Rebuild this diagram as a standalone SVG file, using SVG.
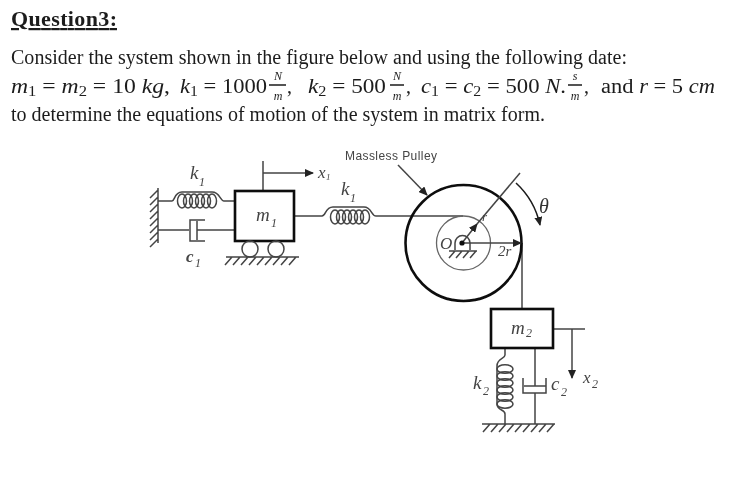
<svg xmlns="http://www.w3.org/2000/svg" width="756" height="480" viewBox="0 0 756 480">
<style>
.t{font-family:"Liberation Serif","Times New Roman",serif;fill:#1c1c1c;font-size:20px}
.i{font-style:italic}
.s{font-size:14px}
.f{font-size:12px;font-style:italic;text-anchor:middle}
.l{font-family:"Liberation Serif",serif;font-style:italic;fill:#444;font-size:19px}
.ls{font-family:"Liberation Serif",serif;font-style:italic;fill:#444;font-size:12px}
.h{fill:none;stroke:#111;stroke-width:2.6}
.w{fill:none;stroke:#444;stroke-width:1.5}
.g{fill:none;stroke:#666;stroke-width:1.3}
.d{fill:none;stroke:#1a1a1a;stroke-width:1.5}
.ah{fill:#222}
</style>
<defs>
<filter id="soft" x="-2%" y="-2%" width="104%" height="104%"><feGaussianBlur stdDeviation="0.4"/></filter>
<marker id="arr" markerWidth="9" markerHeight="8" refX="8" refY="4" orient="auto" markerUnits="userSpaceOnUse"><path class="ah" d="M0 0L9 4L0 8Z"/></marker>
</defs>
<rect width="756" height="480" fill="#fff"/>
<g filter="url(#soft)">
<g id="question-text">
<text class="t" x="11" y="26" font-weight="bold" style="font-size:22px" textLength="106" text-decoration="underline">Question3:</text>
<text class="t" x="11" y="64" textLength="616">Consider the system shown in the figure below and using the following date:</text>
<text class="t" x="11" y="93" textLength="159" lengthAdjust="spacingAndGlyphs"><tspan class="i">m</tspan><tspan class="s" dy="3">1</tspan><tspan dy="-3"> = </tspan><tspan class="i">m</tspan><tspan class="s" dy="3">2</tspan><tspan dy="-3"> = 10 </tspan><tspan class="i">kg</tspan>,</text>
<text class="t" x="180" y="93" textLength="87" lengthAdjust="spacingAndGlyphs"><tspan class="i">k</tspan><tspan class="s" dy="3">1</tspan><tspan dy="-3"> = 1000</tspan></text>
<text class="t f" x="278" y="80">N</text><path class="d" d="M269 85H286"/><text class="t f" x="278" y="100">m</text>
<text class="t" x="287" y="93">,</text>
<text class="t" x="308" y="93" textLength="78" lengthAdjust="spacingAndGlyphs"><tspan class="i">k</tspan><tspan class="s" dy="3">2</tspan><tspan dy="-3"> = 500</tspan></text>
<text class="t f" x="397" y="80">N</text><path class="d" d="M390 85H404"/><text class="t f" x="397" y="100">m</text>
<text class="t" x="406" y="93">,</text>
<text class="t" x="421" y="93" textLength="145" lengthAdjust="spacingAndGlyphs"><tspan class="i">c</tspan><tspan class="s" dy="3">1</tspan><tspan dy="-3"> = </tspan><tspan class="i">c</tspan><tspan class="s" dy="3">2</tspan><tspan dy="-3"> = 500 </tspan><tspan class="i">N</tspan>.</text>
<text class="t f" x="575" y="80">s</text><path class="d" d="M568 85H582"/><text class="t f" x="575" y="100">m</text>
<text class="t" x="584" y="93">,</text>
<text class="t" x="601" y="93" textLength="114" lengthAdjust="spacingAndGlyphs">and <tspan class="i">r</tspan> = 5 <tspan class="i">cm</tspan></text>
<text class="t" x="11" y="121" textLength="534">to determine the equations of motion of the system in matrix form.</text>
</g>
<g id="wall">
<path class="w" d="M158 188V243M158 190l-8 8M158 197l-8 8M158 204l-8 8M158 211l-8 8M158 218l-8 8M158 225l-8 8M158 232l-8 8M158 239l-8 8"/>
</g>
<g id="connectors">
<path class="w" id="spring-k1-left" d="M158 201H172C175 201 174 192 182 192H212C220 192 220 201 224 201H235"/>
<g class="w"><ellipse cx="182" cy="201" rx="4.5" ry="7"/><ellipse cx="188" cy="201" rx="4.5" ry="7"/><ellipse cx="194" cy="201" rx="4.5" ry="7"/><ellipse cx="200" cy="201" rx="4.5" ry="7"/><ellipse cx="206" cy="201" rx="4.5" ry="7"/><ellipse cx="212" cy="201" rx="4.5" ry="7"/></g>
<path class="w" id="damper-c1" d="M158 230H189M205 220H190V241H205M197 221V240M197 230H235"/>
<path class="w" id="spring-k1-right" d="M294 216H322C326 216 325 207 333 207H364C372 207 371 216 376 216H463"/>
<g class="w"><ellipse cx="335" cy="217" rx="4.5" ry="7"/><ellipse cx="341" cy="217" rx="4.5" ry="7"/><ellipse cx="347" cy="217" rx="4.5" ry="7"/><ellipse cx="353" cy="217" rx="4.5" ry="7"/><ellipse cx="359" cy="217" rx="4.5" ry="7"/><ellipse cx="365" cy="217" rx="4.5" ry="7"/></g>
<path class="w" id="rope" d="M522 243V309"/>
<path class="w" id="spring-k2" d="M505 348V355C505 359 497 358 497 366V404C497 411 505 409 505 414V424"/>
<g class="w"><ellipse cx="505" cy="369" rx="8" ry="4.2"/><ellipse cx="505" cy="376" rx="8" ry="4.2"/><ellipse cx="505" cy="383" rx="8" ry="4.2"/><ellipse cx="505" cy="390" rx="8" ry="4.2"/><ellipse cx="505" cy="397" rx="8" ry="4.2"/><ellipse cx="505" cy="404" rx="8" ry="4.2"/></g>
<path class="w" id="damper-c2" d="M535 348V386M524 386H546M523 378V393H546V378M535 393V424"/>
<path class="w" id="x1-arrow" d="M263 161V191M263 173H313" marker-end="url(#arr)"/>
<path class="w" id="x2-ref" d="M553 329H585"/>
<path class="w" id="x2-arrow" d="M572 329V378" marker-end="url(#arr)"/>
<path class="w" id="leader" d="M398 165L427 195" marker-end="url(#arr)"/>
<path class="d" id="theta-arc" d="M516 183A80 80 0 0 1 540 225" marker-end="url(#arr)"/>
</g>
<g id="m1">
<rect class="h" x="235" y="191" width="59" height="50"/>
<text class="l" x="256" y="221">m</text><text class="ls" x="271" y="227">1</text>
<circle class="w" cx="250" cy="249" r="8"/><circle class="w" cx="276" cy="249" r="8"/>
<path class="w" d="M226 257H299M232 257l-7 8M240 257l-7 8M248 257l-7 8M256 257l-7 8M264 257l-7 8M272 257l-7 8M280 257l-7 8M288 257l-7 8M296 257l-7 8"/>
</g>
<g id="pulley">
<circle class="h" cx="463.5" cy="243" r="58"/>
<circle class="g" cx="463.5" cy="243" r="27"/>
<path class="w" d="M462 243L477 224" marker-end="url(#arr)"/>
<path class="w" d="M477 224L520 173"/>
<path class="w" d="M462 243H521" marker-end="url(#arr)"/>
<path class="w" d="M455 250V243A7.5 7.5 0 0 1 470 243V250M449 251H477M455 251l-6 7M462 251l-6 7M469 251l-6 7M476 251l-6 7"/>
<circle cx="462" cy="243" r="2.6" fill="#111"/>
<text class="l" x="440" y="249" style="font-size:17px">O</text>
<text class="l" x="482" y="221" style="font-size:13px">r</text>
<text class="l" x="498" y="256" style="font-size:15px">2r</text>
</g>
<g id="m2">
<rect class="h" x="491" y="309" width="62" height="39"/>
<text class="l" x="511" y="334">m</text><text class="ls" x="526" y="337">2</text>
</g>
<g id="ground-2">
<path class="w" d="M482 424H555M490 424l-7 8M498 424l-7 8M506 424l-7 8M514 424l-7 8M522 424l-7 8M530 424l-7 8M538 424l-7 8M546 424l-7 8M554 424l-7 8"/>
</g>
<g id="labels">
<text class="l" x="190" y="179">k</text><text class="ls" x="199" y="186">1</text>
<text class="l" x="341" y="195">k</text><text class="ls" x="350" y="202">1</text>
<text class="l" x="186" y="262" style="font-weight:bold;font-size:17px">c</text><text class="ls" x="195" y="267">1</text>
<text class="l" x="318" y="178" style="font-size:17px">x</text><text class="ls" x="326" y="180" style="font-size:9px">1</text>
<text class="t i" x="539" y="213" style="font-size:20px;fill:#333">θ</text>
<text class="l" x="473" y="389">k</text><text class="ls" x="483" y="395">2</text>
<text class="l" x="551" y="390">c</text><text class="ls" x="561" y="396">2</text>
<text class="l" x="583" y="383" style="font-size:17px">x</text><text class="ls" x="592" y="388">2</text>
<text x="345" y="160" textLength="92" style="font-family:'Liberation Sans',Arial,sans-serif;font-size:12px;fill:#444">Massless Pulley</text>
</g>
</g>
</svg>
